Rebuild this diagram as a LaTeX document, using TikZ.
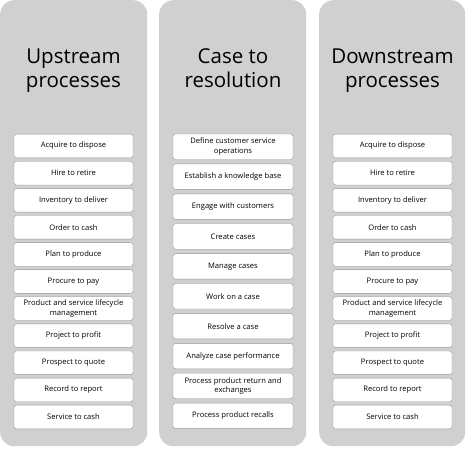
\documentclass[tikz,border=0pt]{standalone}
\usepackage{fontspec}
\setmainfont{Open Sans}
\usetikzlibrary{positioning}
\definecolor{panelgray}{RGB}{208,208,208}
\definecolor{boxline}{RGB}{150,150,150}

\begin{document}
\begin{tikzpicture}[x=1pt, y=1pt, node distance=3pt,
  panel/.style={fill=panelgray, rounded corners=14pt, minimum width=147pt, minimum height=446pt, inner sep=0pt, anchor=north west},
  title/.style={align=center, font=\fontsize{20.5}{24}\selectfont},
  item/.style={draw=boxline, fill=white, rounded corners=2.5pt, minimum width=119pt, align=center, minimum height=23.7pt, inner sep=1pt, font=\fontsize{7.6}{9.6}\selectfont},
  citem/.style={item, minimum width=120pt, minimum height=25.5pt}]
\useasboundingbox (0,0) rectangle (474,-448);
% three columns
\node[panel] (up) at (0,0) {};
\node[panel] (case) at (159,0) {};
\node[panel, minimum width=146pt] (down) at (319,0) {};
\node[title] (uptitle) at (73.5,-70.2) {\strut Upstream\\\strut processes};
\node[title] (casetitle) at (233,-70.2) {\strut Case to\\\strut resolution};
\node[title] (downtitle) at (392.5,-70.2) {\strut Downstream\\\strut processes};
% upstream processes
\node[item] (up1) at (73.5,-146) {Acquire to dispose};
\node[item, below=of up1] (up2) {Hire to retire};
\node[item, below=of up2] (up3) {Inventory to deliver};
\node[item, below=of up3] (up4) {Order to cash};
\node[item, below=of up4] (up5) {Plan to produce};
\node[item, below=of up5] (up6) {Procure to pay};
\node[item, below=of up6] (up7) {Product and service lifecycle\\management};
\node[item, below=of up7] (up8) {Project to profit};
\node[item, below=of up8] (up9) {Prospect to quote};
\node[item, below=of up9] (up10) {Record to report};
\node[item, below=of up10] (up11) {Service to cash};
% case to resolution
\node[citem] (case1) at (233,-146.75) {Define customer service\\operations};
\node[citem, below=4pt of case1] (case2) {Establish a knowledge base};
\node[citem, below=4pt of case2] (case3) {Engage with customers};
\node[citem, below=4pt of case3] (case4) {Create cases};
\node[citem, below=4pt of case4] (case5) {Manage cases};
\node[citem, below=4pt of case5] (case6) {Work on a case};
\node[citem, below=4pt of case6] (case7) {Resolve a case};
\node[citem, below=4pt of case7] (case8) {Analyze case performance};
\node[citem, below=4pt of case8] (case9) {Process product return and\\exchanges};
\node[citem, below=4pt of case9] (case10) {Process product recalls};
% downstream processes
\node[item] (down1) at (392.5,-146) {Acquire to dispose};
\node[item, below=of down1] (down2) {Hire to retire};
\node[item, below=of down2] (down3) {Inventory to deliver};
\node[item, below=of down3] (down4) {Order to cash};
\node[item, below=of down4] (down5) {Plan to produce};
\node[item, below=of down5] (down6) {Procure to pay};
\node[item, below=of down6] (down7) {Product and service lifecycle\\management};
\node[item, below=of down7] (down8) {Project to profit};
\node[item, below=of down8] (down9) {Prospect to quote};
\node[item, below=of down9] (down10) {Record to report};
\node[item, below=of down10] (down11) {Service to cash};
\end{tikzpicture}
\end{document}
